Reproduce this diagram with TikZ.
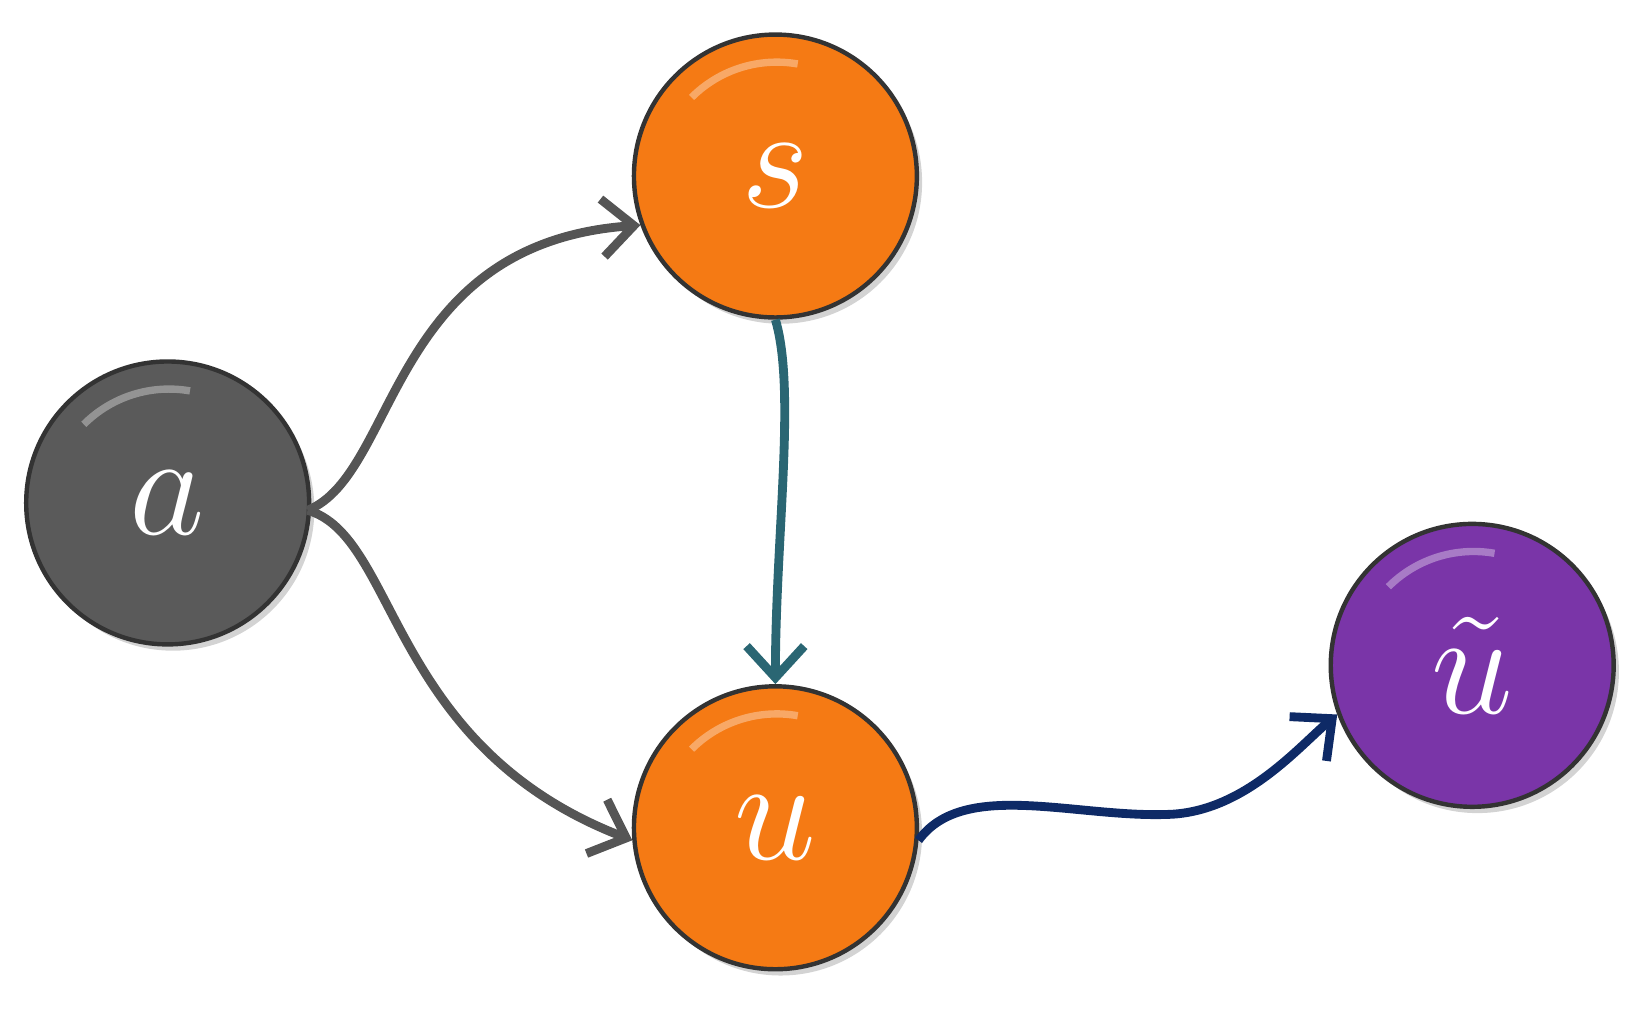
\documentclass[tikz,border=0pt]{standalone}
\usepackage{graphicx}
\usetikzlibrary{shadows,arrows.meta}
\definecolor{cgray}{HTML}{5A5A5A}
\definecolor{corange}{HTML}{F57A14}
\definecolor{cpurple}{HTML}{7A35A8}
\definecolor{cteal}{HTML}{2A6673}
\definecolor{cnavy}{HTML}{0E2A66}
\definecolor{cedge}{HTML}{555555}
\newcommand{\biglabel}[1]{\scalebox{1.6}{$#1$}}
\tikzset{
  ballnode/.style={circle,minimum size=2.7cm,draw=black!80,line width=1.2pt,
    drop shadow={shadow xshift=0.5mm,shadow yshift=-0.6mm,opacity=0.35},
    text=white,font=\Huge},
  conn/.style={line width=2.4pt,-{Straight Barb[length=3mm,width=5.5mm,line width=2.4pt]}}
}
\begin{document}
\begin{tikzpicture}
\useasboundingbox (0,0) rectangle (15.68,9.62);
\node[ballnode,fill=cgray] (a) at (1.60,4.82) {\biglabel{a}};
\node[ballnode,fill=corange] (s) at (7.40,7.94) {\biglabel{s}};
\node[ballnode,fill=corange] (u) at (7.40,1.72) {\biglabel{u}};
\node[ballnode,fill=cpurple] (ut) at (14.05,3.27) {\biglabel{\tilde{u}}};
\foreach \n in {a,s,u,ut}{
  \draw[white,opacity=0.35,line width=2pt] ([shift={(-0.8,0.75)}]\n.center) arc[start angle=135,end angle=80,radius=1.15];
}
\coordinate (ae) at ([xshift=-1pt,yshift=-0.07cm]a.east);
\draw[conn,cedge] (ae) .. controls (3.8,5.1) and (3.7,7.3) .. (s.200);
\draw[conn,cedge] (ae) .. controls (3.8,4.5) and (3.7,2.5) .. (u.185);
\draw[conn,cteal] (s.south) .. controls (7.6,5.9) and (7.4,4.5) .. (u.north);
\draw[conn,cnavy] (u.-5) .. controls (9.2,2.2) and (10.3,1.8) .. (11.2,1.85) .. controls (11.9,1.9) and (12.4,2.5) .. (ut.200);
\end{tikzpicture}
\end{document}
